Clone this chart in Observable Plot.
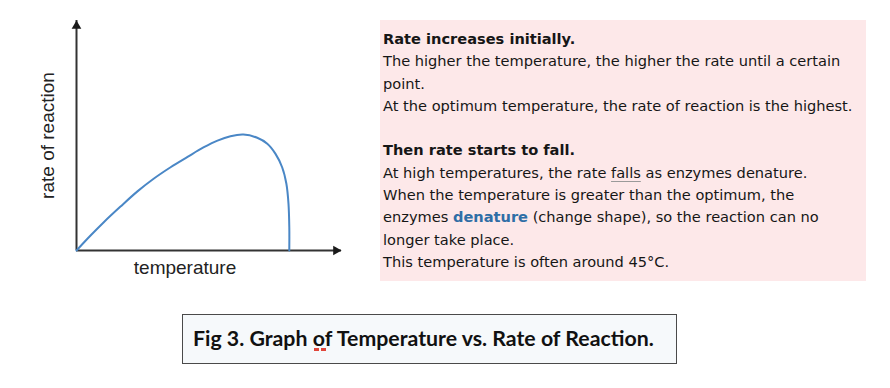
<!DOCTYPE html>
<html>
<head>
<meta charset="utf-8">
<script src="https://cdn.jsdelivr.net/npm/d3@7"></script>
<script src="https://cdn.jsdelivr.net/npm/@observablehq/plot@0.6"></script>
<style>
  html, body { margin: 0; padding: 0; background: #ffffff; }
  body { width: 890px; height: 388px; position: relative; overflow: hidden; }
  #chart { position: absolute; left: 0; top: 0; }
  #note {
    position: absolute; left: 380px; top: 20px; width: 486px; height: 261px;
    background: #fde8e9; box-sizing: border-box; padding: 8px 0 0 3px;
    font-family: "DejaVu Sans", sans-serif; font-size: 14.6px; line-height: 22.3px; color: #161616;
    white-space: nowrap;
  }
  #note b { font-weight: bold; }
  #note .u { text-decoration: underline; text-decoration-color: #9a9a9a; text-underline-offset: 3px; }
  #note .blue { color: #2f6ea6; font-weight: bold; }
  #caption {
    position: absolute; left: 182px; top: 314px; width: 495px; height: 50px;
    box-sizing: border-box; border: 1.5px solid #4a4a4a; background: #f6f9fb;
    font-family: Lato, sans-serif; font-weight: bold; font-size: 21.3px; color: #111;
    padding-left: 10px; line-height: 47px; white-space: nowrap;
  }
  #caption .sp { position: relative; }
  #caption .sp::after {
    content: ""; position: absolute; left: 1px; width: 13px; top: 23px; height: 3px;
    background-image: linear-gradient(to right, #e0463a 0 5px, transparent 5px 7px);
    background-size: 7px 3px; background-repeat: repeat-x;
  }
</style>
</head>
<body>
<div id="chart"></div>
<div id="note">
  <b>Rate increases initially.</b><br>
  The higher the temperature, the higher the rate until a certain<br>
  point.<br>
  At the optimum temperature, the rate of reaction is the highest.<br>
  <br>
  <b>Then rate starts to fall.</b><br>
  At high temperatures, the rate <span class="u">falls</span> as enzymes denature.<br>
  When the temperature is greater than the optimum, the<br>
  enzymes <span class="blue">denature</span> (change shape), so the reaction can no<br>
  longer take place.<br>
  This temperature is often around 45°C.
</div>
<div id="caption">Fig 3. Graph <span class="sp">of</span> Temperature vs. Rate of Reaction.</div>
<script>
// Curve (arbitrary units, axes span 0–100)
const temperature = [0, 5.3, 10.2, 16.6, 23.0, 29.1, 35.5, 41.9, 47.9, 53.2, 58.1, 63.0, 68.2, 72.0, 75.1, 77.6, 79.2, 80.0, 80.3, 80.3];
const rate        = [0, 6.5, 12.2, 19.1, 25.7, 31.2, 36.2, 40.7, 44.8, 47.8, 49.7, 50.4, 49.0, 46.4, 42.0, 36.2, 29.0, 20.3, 10.1, 0];

// Axis extents and labels
const axisMax = 100;
const xLabel = "temperature";
const yLabel = "rate of reaction";

const curve = temperature.map((t, i) => ({t, r: rate[i]}));

const chart = Plot.plot({
  width: 370,
  height: 300,
  marginLeft: 76,
  marginRight: 29,
  marginTop: 20,
  marginBottom: 50,
  x: {domain: [0, axisMax], axis: null},
  y: {domain: [0, axisMax], axis: null},
  style: {background: "transparent", overflow: "visible"},
  marks: [
    Plot.ruleY([0], {x1: 0, x2: axisMax, stroke: "#333", strokeWidth: 2}),
    Plot.ruleX([0], {y1: 0, y2: axisMax, stroke: "#333", strokeWidth: 2}),
    Plot.dot([{x: axisMax, y: 0}], {x: "x", y: "y", symbol: "triangle", r: 3.6, fill: "#1a1a1a", stroke: "none", rotate: 90, dx: -5.5}),
    Plot.dot([{x: 0, y: axisMax}], {x: "x", y: "y", symbol: "triangle", r: 3.6, fill: "#1a1a1a", stroke: "none", dy: 5.5}),
    Plot.line(curve, {x: "t", y: "r", curve: "catmull-rom", stroke: "#4a87c6", strokeWidth: 2}),
    Plot.text([xLabel], {frameAnchor: "bottom", textAnchor: "middle", lineAnchor: "middle", dx: -24, dy: 17, fontSize: 19, fill: "#222", fontFamily: "Liberation Sans, Arial, sans-serif"}),
    Plot.text([yLabel], {frameAnchor: "left", textAnchor: "middle", lineAnchor: "middle", dx: -29, rotate: -90, fontSize: 19, fill: "#222", fontFamily: "Liberation Sans, Arial, sans-serif"})
  ]
});
document.getElementById("chart").appendChild(chart);
</script>
</body>
</html>
